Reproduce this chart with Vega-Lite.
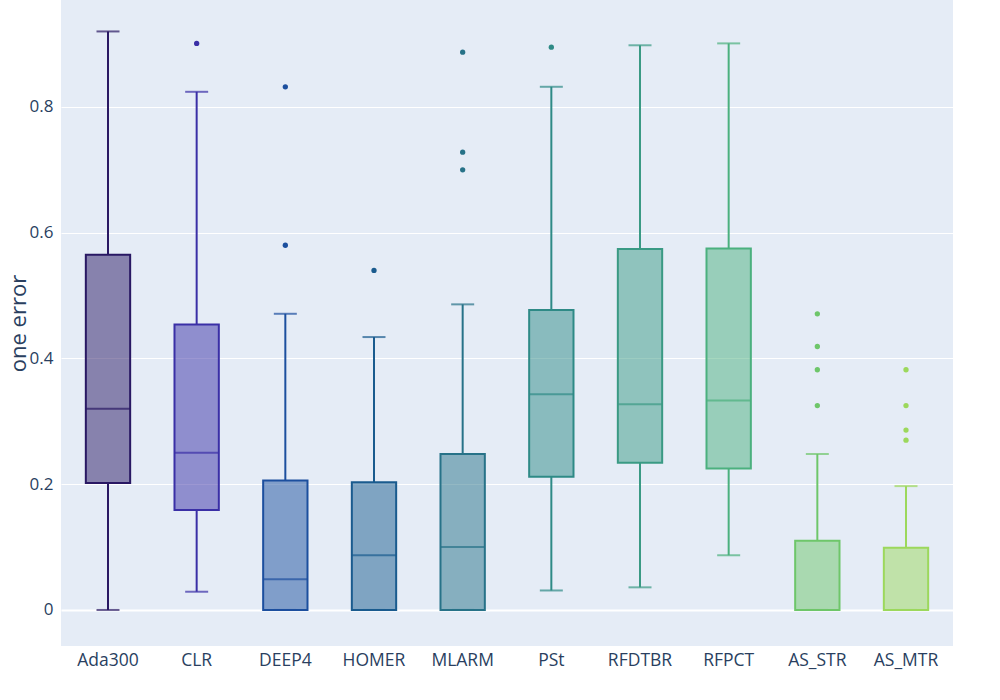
{
  "$schema": "https://vega.github.io/schema/vega-lite/v6.json",
  "width": 892,
  "height": 646,
  "autosize": {"type": "none"},
  "padding": {"left": 61, "right": 47, "top": 0, "bottom": 54},
  "background": "white",
  "config": {
    "font": "Open Sans",
    "view": {"fill": "#e5ecf6", "stroke": null}
  },
  "datasets": {
    "boxes": [
      {"method": "Ada300", "lo": 0.0, "q1": 0.202, "median": 0.320, "q3": 0.565, "hi": 0.920},
      {"method": "CLR", "lo": 0.029, "q1": 0.159, "median": 0.250, "q3": 0.454, "hi": 0.824},
      {"method": "DEEP4", "lo": 0.0, "q1": 0.0, "median": 0.049, "q3": 0.206, "hi": 0.471},
      {"method": "HOMER", "lo": 0.0, "q1": 0.0, "median": 0.087, "q3": 0.203, "hi": 0.434},
      {"method": "MLARM", "lo": 0.0, "q1": 0.0, "median": 0.100, "q3": 0.248, "hi": 0.486},
      {"method": "PSt", "lo": 0.031, "q1": 0.212, "median": 0.343, "q3": 0.477, "hi": 0.832},
      {"method": "RFDTBR", "lo": 0.036, "q1": 0.234, "median": 0.327, "q3": 0.574, "hi": 0.898},
      {"method": "RFPCT", "lo": 0.087, "q1": 0.225, "median": 0.333, "q3": 0.575, "hi": 0.901},
      {"method": "AS_STR", "lo": 0.0, "q1": 0.0, "median": 0.0, "q3": 0.110, "hi": 0.248},
      {"method": "AS_MTR", "lo": 0.0, "q1": 0.0, "median": 0.0, "q3": 0.099, "hi": 0.197}
    ],
    "outliers": [
      {"method": "CLR", "value": 0.901},
      {"method": "DEEP4", "value": 0.832},
      {"method": "DEEP4", "value": 0.580},
      {"method": "HOMER", "value": 0.540},
      {"method": "MLARM", "value": 0.887},
      {"method": "MLARM", "value": 0.728},
      {"method": "MLARM", "value": 0.700},
      {"method": "PSt", "value": 0.895},
      {"method": "AS_STR", "value": 0.471},
      {"method": "AS_STR", "value": 0.419},
      {"method": "AS_STR", "value": 0.382},
      {"method": "AS_STR", "value": 0.325},
      {"method": "AS_MTR", "value": 0.382},
      {"method": "AS_MTR", "value": 0.325},
      {"method": "AS_MTR", "value": 0.286},
      {"method": "AS_MTR", "value": 0.270}
    ]
  },
  "encoding": {
    "x": {
      "field": "method",
      "type": "nominal",
      "sort": ["Ada300", "CLR", "DEEP4", "HOMER", "MLARM", "PSt", "RFDTBR", "RFPCT", "AS_STR", "AS_MTR"],
      "scale": {"paddingInner": 0, "paddingOuter": 0.03},
      "axis": {
        "title": null,
        "labelAngle": 0,
        "labelFontSize": 17.5,
        "labelColor": "#2a3f5f",
        "labelPadding": 5,
        "ticks": false,
        "domain": false,
        "grid": false
      }
    },
    "color": {
      "field": "method",
      "type": "nominal",
      "legend": null,
      "scale": {
        "domain": ["Ada300", "CLR", "DEEP4", "HOMER", "MLARM", "PSt", "RFDTBR", "RFPCT", "AS_STR", "AS_MTR"],
        "range": ["#291863", "#3a2fa6", "#1c4f9e", "#1a5b8e", "#277288", "#2e8a86", "#3a9a84", "#4bb07e", "#6ec66a", "#9cd85c"]
      }
    }
  },
  "layer": [
    {
      "data": {"name": "boxes"},
      "mark": {"type": "rule", "strokeWidth": 2},
      "encoding": {
        "y": {
          "field": "lo",
          "type": "quantitative",
          "scale": {"domain": [-0.0573, 0.970], "nice": false, "zero": false},
          "axis": {
            "title": "one error",
            "titleFontSize": 22,
            "titleFontWeight": "normal",
            "titleColor": "#2a3f5f",
            "titleX": -31,
            "titleBaseline": "bottom",
            "values": [0, 0.2, 0.4, 0.6, 0.8],
            "format": ".1~f",
            "labelFontSize": 17,
            "labelColor": "#2a3f5f",
            "labelPadding": 8,
            "ticks": false,
            "domain": false,
            "gridColor": "white",
            "gridWidth": {"condition": {"test": "datum.value === 0", "value": 2}, "value": 1}
          }
        },
        "y2": {"field": "q1"}
      }
    },
    {
      "data": {"name": "boxes"},
      "mark": {"type": "rule", "strokeWidth": 2},
      "encoding": {
        "y": {"field": "q3", "type": "quantitative"},
        "y2": {"field": "hi"}
      }
    },
    {
      "data": {"name": "boxes"},
      "mark": {"type": "bar", "width": {"band": 0.5}, "fillOpacity": 0.5, "strokeWidth": 2},
      "encoding": {
        "y": {"field": "q1", "type": "quantitative"},
        "y2": {"field": "q3"},
        "stroke": {
          "field": "method",
          "type": "nominal",
          "legend": null,
          "scale": {
            "domain": ["Ada300", "CLR", "DEEP4", "HOMER", "MLARM", "PSt", "RFDTBR", "RFPCT", "AS_STR", "AS_MTR"],
            "range": ["#291863", "#3a2fa6", "#1c4f9e", "#1a5b8e", "#277288", "#2e8a86", "#3a9a84", "#4bb07e", "#6ec66a", "#9cd85c"]
          }
        }
      }
    },
    {
      "data": {"name": "boxes"},
      "mark": {"type": "tick", "size": 44, "thickness": 2},
      "encoding": {
        "y": {"field": "median", "type": "quantitative"}
      }
    },
    {
      "data": {"name": "boxes"},
      "mark": {"type": "tick", "size": 23, "thickness": 2},
      "encoding": {
        "y": {"field": "hi", "type": "quantitative"}
      }
    },
    {
      "data": {"name": "boxes"},
      "mark": {"type": "tick", "size": 23, "thickness": 2},
      "encoding": {
        "y": {"field": "lo", "type": "quantitative"}
      }
    },
    {
      "data": {"name": "outliers"},
      "mark": {"type": "circle", "size": 28, "opacity": 1},
      "encoding": {
        "y": {"field": "value", "type": "quantitative"}
      }
    }
  ]
}
